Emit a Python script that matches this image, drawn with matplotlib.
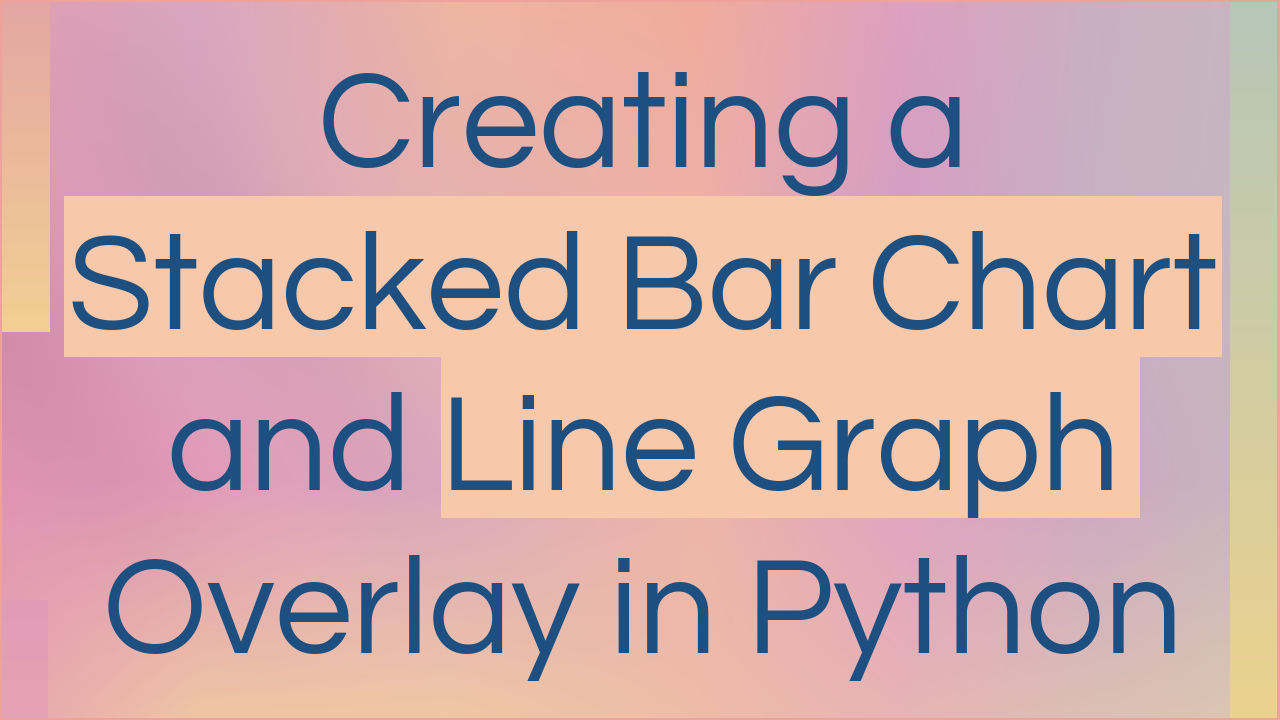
import numpy as np
import matplotlib
matplotlib.use("Agg")
from matplotlib import pyplot as plt
from matplotlib.patches import Rectangle
from matplotlib.colors import to_rgb

W, H = 1280, 720

# title lines and which words sit on a peach highlight
lines = ["Creating a", "Stacked Bar Chart", "and Line Graph", "Overlay in Python"]
baselines = [167, 329, 490, 653]
# highlight boxes: (x0, y0, x1, y1) in pixels
boxes = [(64, 196, 1222, 357), (441, 357, 1140, 518)]

text_color = "#1d5081"
box_color = "#f7c8aa"

# coarse background colour grid (rows top->bottom, cols left->right)
grid_x = [0, 200, 450, 700, 900, 1100, 1280]
grid_y = [0, 240, 480, 720]
grid_colors = [
    ["#e3a2b4", "#d9a6c2", "#efb6a2", "#f0ac9c", "#dea0c0", "#c9b0c2", "#c6b8c2"],
    ["#dd94b6", "#d8a2bc", "#e8b4b4", "#eeb0a8", "#d49ec4", "#c8b2c4", "#c6b8c0"],
    ["#e094b4", "#e29cba", "#dca8c0", "#ecb4a8", "#e0a2c2", "#cca8c4", "#c8b8bc"],
    ["#e8a6b0", "#f0c6a4", "#f0c8a4", "#eebca8", "#e8b4b4", "#dcc0b4", "#dcc8b0"],
]


def background():
    xs = np.arange(W) + 0.5
    ys = np.arange(H) + 0.5
    cols = np.array([[to_rgb(c) for c in row] for row in grid_colors])
    # interpolate along x for each grid row, then along y
    rows = np.stack([np.stack([np.interp(xs, grid_x, cols[r, :, k]) for k in range(3)], -1)
                     for r in range(len(grid_y))])
    img = np.empty((H, W, 3))
    for k in range(3):
        for i in range(W):
            img[:, i, k] = np.interp(ys, grid_y, rows[:, i, k])

    # soft fabric folds on the left side
    X, Y = np.meshgrid(xs, ys)
    d = X * 0.8 - Y * 0.55
    folds = 0.5 + 0.5 * np.sin(d / 38.0)
    mask = np.clip(1 - X / 700, 0, 1) * np.clip(1 - np.abs(Y - 300) / 420, 0, 1)
    img = img * (1 - 0.06 * folds[..., None] * mask[..., None])

    # left strip (top part) and right strip
    def vgrad(c0, c1, n):
        t = np.linspace(0, 1, n)[:, None]
        return (1 - t) * np.array(to_rgb(c0)) + t * np.array(to_rgb(c1))

    img[0:332, 2:50] = vgrad("#e4a6a4", "#f2d092", 332)[:, None, :]
    img[600:H, 0:48] = vgrad("#e09cb6", "#e6a2b4", H - 600)[:, None, :]
    img[0:H, 1230:1277] = vgrad("#b6c6b8", "#ecd28e", H)[:, None, :]

    # thin salmon frame
    frame = np.array(to_rgb("#eea29c"))
    img[:2] = frame
    img[-2:] = frame
    img[:, :2] = frame
    img[:, -3:] = frame
    return np.clip(img, 0, 1)


fig = plt.figure(figsize=(W / 100, H / 100), dpi=100)
ax = fig.add_axes([0, 0, 1, 1])
ax.set_xlim(0, W)
ax.set_ylim(H, 0)
ax.axis("off")

ax.imshow(background(), extent=(0, W, H, 0), interpolation="bilinear", zorder=0)

for x0, y0, x1, y1 in boxes:
    ax.add_patch(Rectangle((x0, y0), x1 - x0, y1 - y0, facecolor=box_color,
                           edgecolor="none", zorder=1))

texts = []
for line, base in zip(lines, baselines):
    t = ax.text(643, base, line, ha="center", va="baseline", color=text_color,
                fontsize=80, family=["Questrial", "DejaVu Sans"], zorder=2)
    texts.append(t)

# fit the font size so the widest line spans roughly 68..1218 px
fig.canvas.draw()
r = fig.canvas.get_renderer()
w = texts[1].get_window_extent(r).width
size = 80 * 1150 / w
for t in texts:
    t.set_fontsize(size)

fig.savefig("out.png", dpi=100)
